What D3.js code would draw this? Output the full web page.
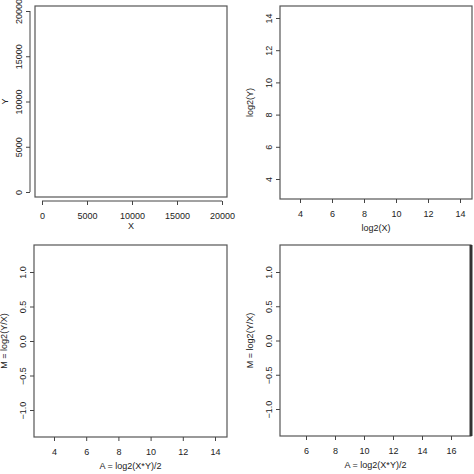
<!DOCTYPE html><html><head><meta charset="utf-8"><script src="https://cdn.jsdelivr.net/npm/d3@7"></script>
<style>body{margin:0;background:#fff}text{font-family:"Liberation Sans",Arial,sans-serif;fill:#222}</style></head><body>
<svg id="c" width="474" height="474"></svg>
<script>
const xTicks1=[0,5000,10000,15000,20000], yTicks1=[0,5000,10000,15000,20000];
const xTicks2=[4,6,8,10,12,14], yTicks2=[4,6,8,10,12,14];
const xTicks3=[4,6,8,10,12,14], yTicks3=[-1.0,-0.5,0.0,0.5,1.0];
const xTicks4=[6,8,10,12,14,16], yTicks4=[-1.0,-0.5,0.0,0.5,1.0];
const labels=[["X","Y"],["log2(X)","log2(Y)"],["A = log2(X*Y)/2","M = log2(Y/X)"],["A = log2(X*Y)/2","M = log2(Y/X)"]];
const svg=d3.select("#c");
const panels=[
 {box:[35,227,6,197],xt:xTicks1,yt:yTicks1,xr:[42,222],yr:[192,11],axX:201,axY:30,detached:true,fmt:d3.format("d"),yfmt:d3.format("d")},
 {box:[280,472,6,199],xt:xTicks2,yt:yTicks2,xr:[300,460],yr:[179,18],fmt:d3.format("d"),yfmt:d3.format("d")},
 {box:[34,227,245,437],xt:xTicks3,yt:yTicks3,xr:[54,215],yr:[410,272],fmt:d3.format("d"),yfmt:d3.format(".1f")},
 {box:[280,471,245,436],xt:xTicks4,yt:yTicks4,xr:[306,451],yr:[409,272],fmt:d3.format("d"),yfmt:d3.format(".1f"),thickRight:true}
];
panels.forEach((p,i)=>{
 const x=d3.scaleLinear().domain([p.xt[0],p.xt[p.xt.length-1]]).range(p.xr);
 const y=d3.scaleLinear().domain([p.yt[0],p.yt[p.yt.length-1]]).range(p.yr);
 const [l,r,t,b]=p.box;
 svg.append("rect").attr("x",l).attr("y",t).attr("width",r-l).attr("height",b-t).attr("fill","none").attr("stroke","#555").attr("stroke-width",1.2);
 if(p.thickRight) svg.append("line").attr("x1",r).attr("x2",r).attr("y1",t).attr("y2",b).attr("stroke","#333").attr("stroke-width",3);
 const ay=p.detached?p.axX:b, ax=p.detached?p.axY:l;
 const gx=svg.append("g").attr("transform",`translate(0,${ay})`).call(d3.axisBottom(x).tickValues(p.xt).tickFormat(p.fmt).tickSize(4).tickSizeOuter(0));
 const gy=svg.append("g").attr("transform",`translate(${ax},0)`).call(d3.axisLeft(y).tickValues(p.yt).tickFormat(p.yfmt).tickSize(4).tickSizeOuter(0));
 [gx,gy].forEach(g=>{g.selectAll("path,line").attr("stroke","#444");g.selectAll("text").attr("font-size",9).attr("fill","#222").attr("font-family","Liberation Sans, Arial");});
 if(!p.detached){gx.select("path").remove();gy.select("path").remove();}
 else{gx.select("path").attr("d",`M${x(p.xt[0])},0H${x(p.xt[p.xt.length-1])}`);gy.select("path").attr("d",`M0,${y(p.yt[0])}V${y(p.yt[p.yt.length-1])}`);}
 gx.selectAll("text").attr("dy","1.2em");
 gy.selectAll("text").attr("x",0).attr("y",0).attr("dy",0).attr("text-anchor","middle").attr("transform","translate(-8,0) rotate(-90)");
 svg.append("text").attr("x",(l+r)/2).attr("y",b+32).attr("text-anchor","middle").attr("font-size",9).text(labels[i][0]);
 svg.append("text").attr("transform",`translate(${l-27},${(t+b)/2}) rotate(-90)`).attr("text-anchor","middle").attr("font-size",9).text(labels[i][1]);
});
</script></body></html>
